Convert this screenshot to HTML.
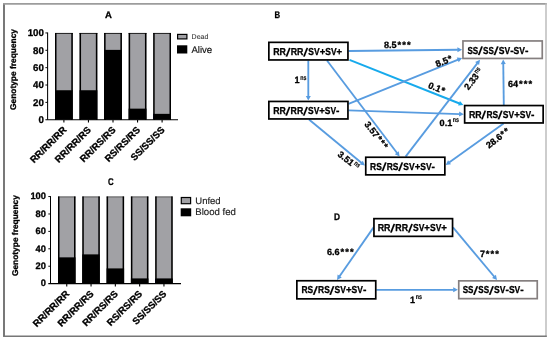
<!DOCTYPE html>
<html lang="en"><head><meta charset="utf-8"><title>Figure</title>
<style>html,body{margin:0;padding:0;background:#fff;}body{width:550px;height:340px;overflow:hidden;}svg{display:block;text-rendering:geometricPrecision;font-family:"Liberation Sans",sans-serif;}text[font-weight="700"]{stroke:#000;stroke-width:.3px;stroke-linejoin:round;}</style>
</head><body>
<svg width="550" height="340" viewBox="0 0 550 340">
<rect width="550" height="340" fill="#fff"/>
<defs><filter id="soft" x="0" y="0" width="100%" height="100%" filterUnits="userSpaceOnUse" primitiveUnits="userSpaceOnUse"><feGaussianBlur stdDeviation="0.35"/></filter></defs>
<g filter="url(#soft)">
<rect width="550" height="340" fill="#fff"/>
<path d="M4 3.2V336.8" stroke="#6a6a6a" stroke-width="1.8"/>
<path d="M3.2 3.9H546.8" stroke="#9c9c9c" stroke-width="1.8"/>
<path d="M546 3.2V336.8" stroke="#bcbcbc" stroke-width="1.5"/>
<path d="M3.2 336.2H546.8" stroke="#777" stroke-width="1.6"/>
<g>
<text x="108.5" y="18" font-size="9.5" font-weight="700" text-anchor="middle">A</text>
<rect x="55.00" y="32.95" width="17.80" height="86.80" fill="#a1a1a5"/>
<path d="M55.00 33.45H72.80" stroke="#222" stroke-width="1.0" fill="none"/>
<path d="M55.75 32.95V119.75M72.05 32.95V119.75" stroke="#000" stroke-width="1.5" fill="none"/>
<rect x="55.00" y="90.24" width="17.80" height="29.51" fill="#000"/>
<rect x="79.55" y="32.95" width="17.80" height="86.80" fill="#a1a1a5"/>
<path d="M79.55 33.45H97.35" stroke="#222" stroke-width="1.0" fill="none"/>
<path d="M80.30 32.95V119.75M96.60 32.95V119.75" stroke="#000" stroke-width="1.5" fill="none"/>
<rect x="79.55" y="90.24" width="17.80" height="29.51" fill="#000"/>
<rect x="104.10" y="32.95" width="17.80" height="86.80" fill="#a1a1a5"/>
<path d="M104.10 33.45H121.90" stroke="#222" stroke-width="1.0" fill="none"/>
<path d="M104.85 32.95V119.75M121.15 32.95V119.75" stroke="#000" stroke-width="1.5" fill="none"/>
<rect x="104.10" y="49.88" width="17.80" height="69.87" fill="#000"/>
<rect x="128.65" y="32.95" width="17.80" height="86.80" fill="#a1a1a5"/>
<path d="M128.65 33.45H146.45" stroke="#222" stroke-width="1.0" fill="none"/>
<path d="M129.40 32.95V119.75M145.70 32.95V119.75" stroke="#000" stroke-width="1.5" fill="none"/>
<rect x="128.65" y="108.64" width="17.80" height="11.11" fill="#000"/>
<rect x="153.20" y="32.95" width="17.80" height="86.80" fill="#a1a1a5"/>
<path d="M153.20 33.45H171.00" stroke="#222" stroke-width="1.0" fill="none"/>
<path d="M153.95 32.95V119.75M170.25 32.95V119.75" stroke="#000" stroke-width="1.5" fill="none"/>
<rect x="153.20" y="113.85" width="17.80" height="5.90" fill="#000"/>
<path d="M47.6 32.45V119.75" stroke="#000" stroke-width="1.05" fill="none"/>
<path d="M45.4 119.75H178" stroke="#000" stroke-width="1.15" fill="none"/>
<text x="43.9" y="122.97" font-size="9.7" font-weight="700" text-anchor="end">0</text>
<path d="M45.4 102.39H47.6" stroke="#000" stroke-width="0.95"/>
<text x="43.9" y="105.61" font-size="9.7" font-weight="700" text-anchor="end">20</text>
<path d="M45.4 85.03H47.6" stroke="#000" stroke-width="0.95"/>
<text x="43.9" y="88.25" font-size="9.7" font-weight="700" text-anchor="end">40</text>
<path d="M45.4 67.67H47.6" stroke="#000" stroke-width="0.95"/>
<text x="43.9" y="70.89" font-size="9.7" font-weight="700" text-anchor="end">60</text>
<path d="M45.4 50.31H47.6" stroke="#000" stroke-width="0.95"/>
<text x="43.9" y="53.53" font-size="9.7" font-weight="700" text-anchor="end">80</text>
<path d="M45.4 32.95H47.6" stroke="#000" stroke-width="0.95"/>
<text x="43.9" y="36.17" font-size="9.7" font-weight="700" text-anchor="end">100</text>
<path d="M63.90 119.75V122.55" stroke="#000" stroke-width="1.1"/>
<text transform="translate(67.10 130.45) rotate(-45)" font-size="9.6" font-weight="700" text-anchor="end">RR/RR/RR</text>
<path d="M88.45 119.75V122.55" stroke="#000" stroke-width="1.1"/>
<text transform="translate(91.65 130.45) rotate(-45)" font-size="9.6" font-weight="700" text-anchor="end">RR/RR/RS</text>
<path d="M113.00 119.75V122.55" stroke="#000" stroke-width="1.1"/>
<text transform="translate(116.20 130.45) rotate(-45)" font-size="9.6" font-weight="700" text-anchor="end">RR/RS/RS</text>
<path d="M137.55 119.75V122.55" stroke="#000" stroke-width="1.1"/>
<text transform="translate(140.75 130.45) rotate(-45)" font-size="9.6" font-weight="700" text-anchor="end">RS/RS/RS</text>
<path d="M162.10 119.75V122.55" stroke="#000" stroke-width="1.1"/>
<text transform="translate(165.30 130.45) rotate(-45)" font-size="9.6" font-weight="700" text-anchor="end">SS/SS/SS</text>
<text transform="translate(16.4 69.5) rotate(-90)" font-size="8.4" font-weight="700" text-anchor="middle">Genotype frequency</text>
<rect x="177.6" y="34.4" width="9.3" height="4.5" fill="#a1a1a5" stroke="#000" stroke-width="1.2"/>
<text x="191.6" y="38.6" font-size="7" fill="#3a3a3a" stroke="#3a3a3a" stroke-width=".12">Dead</text>
<rect x="177" y="45.3" width="10.3" height="8.2" fill="#000"/>
<text x="191.4" y="52.7" font-size="9.6" fill="#111" stroke="#111" stroke-width=".15">Alive</text>
</g>
<g>
<text x="110.7" y="185.3" font-size="9.8" font-weight="700" text-anchor="middle" textLength="5.6" lengthAdjust="spacingAndGlyphs">C</text>
<rect x="58.00" y="196.55" width="17.50" height="87.10" fill="#a1a1a5"/>
<path d="M58.00 196.95H75.50" stroke="#4a4a4a" stroke-width="0.8" fill="none"/>
<path d="M58.75 196.55V283.65M74.75 196.55V283.65" stroke="#000" stroke-width="1.5" fill="none"/>
<rect x="58.00" y="257.35" width="17.50" height="26.30" fill="#000"/>
<rect x="82.30" y="196.55" width="17.50" height="87.10" fill="#a1a1a5"/>
<path d="M82.30 196.95H99.80" stroke="#4a4a4a" stroke-width="0.8" fill="none"/>
<path d="M83.05 196.55V283.65M99.05 196.55V283.65" stroke="#000" stroke-width="1.5" fill="none"/>
<rect x="82.30" y="254.38" width="17.50" height="29.27" fill="#000"/>
<rect x="106.60" y="196.55" width="17.50" height="87.10" fill="#a1a1a5"/>
<path d="M106.60 196.95H124.10" stroke="#4a4a4a" stroke-width="0.8" fill="none"/>
<path d="M107.35 196.55V283.65M123.35 196.55V283.65" stroke="#000" stroke-width="1.5" fill="none"/>
<rect x="106.60" y="268.41" width="17.50" height="15.24" fill="#000"/>
<rect x="130.90" y="196.55" width="17.50" height="87.10" fill="#a1a1a5"/>
<path d="M130.90 196.95H148.40" stroke="#4a4a4a" stroke-width="0.8" fill="none"/>
<path d="M131.65 196.55V283.65M147.65 196.55V283.65" stroke="#000" stroke-width="1.5" fill="none"/>
<rect x="130.90" y="278.42" width="17.50" height="5.23" fill="#000"/>
<rect x="155.20" y="196.55" width="17.50" height="87.10" fill="#a1a1a5"/>
<path d="M155.20 196.95H172.70" stroke="#4a4a4a" stroke-width="0.8" fill="none"/>
<path d="M155.95 196.55V283.65M171.95 196.55V283.65" stroke="#000" stroke-width="1.5" fill="none"/>
<rect x="155.20" y="278.42" width="17.50" height="5.23" fill="#000"/>
<path d="M50.5 196.05V283.65" stroke="#000" stroke-width="1.05" fill="none"/>
<path d="M48.3 283.65H181" stroke="#000" stroke-width="1.15" fill="none"/>
<text x="45.9" y="286.38" font-size="9.3" font-weight="700" text-anchor="end">0</text>
<path d="M48.3 266.23H50.5" stroke="#000" stroke-width="0.95"/>
<text x="45.9" y="268.96" font-size="9.3" font-weight="700" text-anchor="end">20</text>
<path d="M48.3 248.81H50.5" stroke="#000" stroke-width="0.95"/>
<text x="45.9" y="251.54" font-size="9.3" font-weight="700" text-anchor="end">40</text>
<path d="M48.3 231.39H50.5" stroke="#000" stroke-width="0.95"/>
<text x="45.9" y="234.12" font-size="9.3" font-weight="700" text-anchor="end">60</text>
<path d="M48.3 213.97H50.5" stroke="#000" stroke-width="0.95"/>
<text x="45.9" y="216.70" font-size="9.3" font-weight="700" text-anchor="end">80</text>
<path d="M48.3 196.55H50.5" stroke="#000" stroke-width="0.95"/>
<text x="45.9" y="199.28" font-size="9.3" font-weight="700" text-anchor="end">100</text>
<path d="M66.75 283.65V286.45" stroke="#000" stroke-width="1.1"/>
<text transform="translate(69.95 294.35) rotate(-45)" font-size="9.6" font-weight="700" text-anchor="end">RR/RR/RR</text>
<path d="M91.05 283.65V286.45" stroke="#000" stroke-width="1.1"/>
<text transform="translate(94.25 294.35) rotate(-45)" font-size="9.6" font-weight="700" text-anchor="end">RR/RR/RS</text>
<path d="M115.35 283.65V286.45" stroke="#000" stroke-width="1.1"/>
<text transform="translate(118.55 294.35) rotate(-45)" font-size="9.6" font-weight="700" text-anchor="end">RR/RS/RS</text>
<path d="M139.65 283.65V286.45" stroke="#000" stroke-width="1.1"/>
<text transform="translate(142.85 294.35) rotate(-45)" font-size="9.6" font-weight="700" text-anchor="end">RS/RS/RS</text>
<path d="M163.95 283.65V286.45" stroke="#000" stroke-width="1.1"/>
<text transform="translate(167.15 294.35) rotate(-45)" font-size="9.6" font-weight="700" text-anchor="end">SS/SS/SS</text>
<text transform="translate(18.2 235.6) rotate(-90)" font-size="8.4" font-weight="700" text-anchor="middle">Genotype frequency</text>
<rect x="181.3" y="197.5" width="9.3" height="6.2" fill="#a1a1a5" stroke="#000" stroke-width="1.2"/>
<text x="195.3" y="203.5" font-size="9.5" fill="#222" stroke="#222" stroke-width=".15">Unfed</text>
<rect x="180.7" y="208.3" width="10.5" height="8" fill="#000"/>
<text x="195.3" y="215.4" font-size="9.65" fill="#222" stroke="#222" stroke-width=".15">Blood fed</text>
</g>
<g>
<text x="277.2" y="18.3" font-size="9.6" font-weight="700" text-anchor="middle" textLength="5.6" lengthAdjust="spacingAndGlyphs">B</text>
<path d="M308.30 60.50L308.30 96.40" stroke="#589ce0" stroke-width="1.85" fill="none"/>
<path d="M308.30 100.60L305.80 95.90L310.80 95.90Z" fill="#589ce0"/>
<path d="M327.00 60.50L397.06 153.05" stroke="#589ce0" stroke-width="1.85" fill="none"/>
<path d="M399.60 156.40L394.77 154.16L398.76 151.14Z" fill="#589ce0"/>
<path d="M348.50 51.00L457.90 49.75" stroke="#589ce0" stroke-width="1.85" fill="none"/>
<path d="M462.10 49.70L457.43 52.25L457.37 47.25Z" fill="#589ce0"/>
<path d="M349.50 59.90L459.49 103.45" stroke="#18aaec" stroke-width="2.0" fill="none"/>
<path d="M463.40 105.00L458.11 105.59L459.95 100.95Z" fill="#18aaec"/>
<path d="M348.50 103.90L458.20 59.67" stroke="#589ce0" stroke-width="1.85" fill="none"/>
<path d="M462.10 58.10L458.68 62.18L456.81 57.54Z" fill="#589ce0"/>
<path d="M348.50 110.40L459.60 114.06" stroke="#589ce0" stroke-width="1.85" fill="none"/>
<path d="M463.80 114.20L459.02 116.54L459.18 111.55Z" fill="#589ce0"/>
<path d="M309.00 119.50L361.66 162.93" stroke="#589ce0" stroke-width="1.85" fill="none"/>
<path d="M364.90 165.60L359.68 164.54L362.86 160.68Z" fill="#589ce0"/>
<path d="M405.60 156.60L477.44 63.13" stroke="#589ce0" stroke-width="1.85" fill="none"/>
<path d="M480.00 59.80L479.12 65.05L475.15 62.00Z" fill="#589ce0"/>
<path d="M503.80 105.00L503.26 63.60" stroke="#589ce0" stroke-width="1.85" fill="none"/>
<path d="M503.20 59.40L505.76 64.07L500.76 64.13Z" fill="#589ce0"/>
<path d="M503.60 123.40L449.11 162.55" stroke="#589ce0" stroke-width="1.85" fill="none"/>
<path d="M445.70 165.00L448.06 160.23L450.98 164.29Z" fill="#589ce0"/>
<rect x="268.85" y="42.35" width="79.10" height="17.60" fill="#fff" stroke="#000" stroke-width="1.7"/>
<text font-size="10.1" font-weight="700" aria-label="RR/RR/SV+SV+"><tspan x="273.20" y="55.00" textLength="12.70" lengthAdjust="spacingAndGlyphs">RR</tspan><tspan x="285.47" y="56.20" rotate="8" font-size="12.2" textLength="3.9" lengthAdjust="spacingAndGlyphs" style="stroke-width:.1px">/</tspan><tspan x="290.75" y="55.00" textLength="12.70" lengthAdjust="spacingAndGlyphs">RR</tspan><tspan x="303.02" y="56.20" rotate="8" font-size="12.2" textLength="3.9" lengthAdjust="spacingAndGlyphs" style="stroke-width:.1px">/</tspan><tspan x="308.30" y="55.00" textLength="11.33" lengthAdjust="spacingAndGlyphs">SV</tspan><tspan x="319.63" y="55.00" textLength="5.62" lengthAdjust="spacingAndGlyphs">+</tspan><tspan x="325.25" y="55.00" textLength="11.33" lengthAdjust="spacingAndGlyphs">SV</tspan><tspan x="336.58" y="55.00" textLength="5.62" lengthAdjust="spacingAndGlyphs">+</tspan></text>
<rect x="268.85" y="101.45" width="79.10" height="17.50" fill="#fff" stroke="#000" stroke-width="1.7"/>
<text font-size="10.1" font-weight="700" aria-label="RR/RR/SV+SV-"><tspan x="273.20" y="114.00" textLength="12.60" lengthAdjust="spacingAndGlyphs">RR</tspan><tspan x="285.35" y="115.20" rotate="8" font-size="12.2" textLength="3.9" lengthAdjust="spacingAndGlyphs" style="stroke-width:.1px">/</tspan><tspan x="290.61" y="114.00" textLength="12.60" lengthAdjust="spacingAndGlyphs">RR</tspan><tspan x="302.76" y="115.20" rotate="8" font-size="12.2" textLength="3.9" lengthAdjust="spacingAndGlyphs" style="stroke-width:.1px">/</tspan><tspan x="308.02" y="114.00" textLength="11.24" lengthAdjust="spacingAndGlyphs">SV</tspan><tspan x="319.26" y="114.00" textLength="5.57" lengthAdjust="spacingAndGlyphs">+</tspan><tspan x="324.83" y="114.00" textLength="11.24" lengthAdjust="spacingAndGlyphs">SV</tspan><tspan x="336.08" y="114.00" textLength="3.42" lengthAdjust="spacingAndGlyphs">-</tspan></text>
<rect x="365.75" y="157.25" width="79.10" height="17.60" fill="#fff" stroke="#000" stroke-width="1.7"/>
<text font-size="10.1" font-weight="700" aria-label="RS/RS/SV+SV-"><tspan x="370.10" y="169.60" textLength="11.72" lengthAdjust="spacingAndGlyphs">RS</tspan><tspan x="381.40" y="170.80" rotate="8" font-size="12.2" textLength="3.9" lengthAdjust="spacingAndGlyphs" style="stroke-width:.1px">/</tspan><tspan x="386.68" y="169.60" textLength="11.72" lengthAdjust="spacingAndGlyphs">RS</tspan><tspan x="397.99" y="170.80" rotate="8" font-size="12.2" textLength="3.9" lengthAdjust="spacingAndGlyphs" style="stroke-width:.1px">/</tspan><tspan x="403.27" y="169.60" textLength="11.37" lengthAdjust="spacingAndGlyphs">SV</tspan><tspan x="414.64" y="169.60" textLength="5.63" lengthAdjust="spacingAndGlyphs">+</tspan><tspan x="420.27" y="169.60" textLength="11.37" lengthAdjust="spacingAndGlyphs">SV</tspan><tspan x="431.64" y="169.60" textLength="3.46" lengthAdjust="spacingAndGlyphs">-</tspan></text>
<rect x="464.65" y="105.55" width="78.50" height="17.40" fill="#fff" stroke="#000" stroke-width="1.7"/>
<text font-size="10.1" font-weight="700" aria-label="RR/RS/SV+SV-"><tspan x="468.90" y="117.90" textLength="12.66" lengthAdjust="spacingAndGlyphs">RR</tspan><tspan x="481.12" y="119.10" rotate="8" font-size="12.2" textLength="3.9" lengthAdjust="spacingAndGlyphs" style="stroke-width:.1px">/</tspan><tspan x="486.39" y="117.90" textLength="11.65" lengthAdjust="spacingAndGlyphs">RS</tspan><tspan x="497.60" y="119.10" rotate="8" font-size="12.2" textLength="3.9" lengthAdjust="spacingAndGlyphs" style="stroke-width:.1px">/</tspan><tspan x="502.87" y="117.90" textLength="11.30" lengthAdjust="spacingAndGlyphs">SV</tspan><tspan x="514.17" y="117.90" textLength="5.60" lengthAdjust="spacingAndGlyphs">+</tspan><tspan x="519.76" y="117.90" textLength="11.30" lengthAdjust="spacingAndGlyphs">SV</tspan><tspan x="531.06" y="117.90" textLength="3.44" lengthAdjust="spacingAndGlyphs">-</tspan></text>
<rect x="462.95" y="40.95" width="79.30" height="17.50" fill="#fff" stroke="#857f7f" stroke-width="1.7"/>
<text font-size="10.1" font-weight="700" aria-label="SS/SS/SV-SV-"><tspan x="467.50" y="53.50" textLength="10.74" lengthAdjust="spacingAndGlyphs">SS</tspan><tspan x="477.83" y="54.70" rotate="8" font-size="12.2" textLength="3.9" lengthAdjust="spacingAndGlyphs" style="stroke-width:.1px">/</tspan><tspan x="483.12" y="53.50" textLength="10.74" lengthAdjust="spacingAndGlyphs">SS</tspan><tspan x="493.45" y="54.70" rotate="8" font-size="12.2" textLength="3.9" lengthAdjust="spacingAndGlyphs" style="stroke-width:.1px">/</tspan><tspan x="498.74" y="53.50" textLength="11.41" lengthAdjust="spacingAndGlyphs">SV</tspan><tspan x="510.15" y="53.50" textLength="3.47" lengthAdjust="spacingAndGlyphs">-</tspan><tspan x="513.62" y="53.50" textLength="11.41" lengthAdjust="spacingAndGlyphs">SV</tspan><tspan x="525.03" y="53.50" textLength="3.47" lengthAdjust="spacingAndGlyphs">-</tspan></text>
<g transform="translate(294.60 83.10) rotate(0)" role="img" aria-label="1ns"><text font-size="9.1" font-weight="700">1</text><text x="5.66" y="-3.3" font-size="7.0" font-weight="700" style="stroke-width:.14px" textLength="6.2" lengthAdjust="spacingAndGlyphs">ns</text></g>
<g transform="translate(384.00 48.20) rotate(0)" role="img" aria-label="8.5***"><text font-size="9.1" font-weight="700">8.5<tspan font-size="9.4" dy="0.0" dx="0.8" letter-spacing="1.1">***</tspan></text></g>
<g transform="translate(437.10 67.30) rotate(-22)" role="img" aria-label="8.5*"><text font-size="9.1" font-weight="700">8.5<tspan font-size="9.4" dy="0.0" dx="0.8" letter-spacing="1.1">*</tspan></text></g>
<g transform="translate(427.60 87.70) rotate(22)" role="img" aria-label="0.1*"><text font-size="9.1" font-weight="700">0.1<tspan font-size="9.4" dy="0.0" dx="0.8" letter-spacing="1.1">*</tspan></text></g>
<g transform="translate(439.60 125.60) rotate(0)" role="img" aria-label="0.1ns"><text font-size="9.1" font-weight="700">0.1</text><text x="13.25" y="-3.3" font-size="7.0" font-weight="700" style="stroke-width:.14px" textLength="6.2" lengthAdjust="spacingAndGlyphs">ns</text></g>
<g transform="translate(468.60 90.60) rotate(-53)" role="img" aria-label="2.33ns"><text font-size="9.1" font-weight="700">2.33</text><text x="18.31" y="-3.3" font-size="7.0" font-weight="700" style="stroke-width:.14px" textLength="6.2" lengthAdjust="spacingAndGlyphs">ns</text></g>
<g transform="translate(508.00 86.80) rotate(0)" role="img" aria-label="64***"><text font-size="9.1" font-weight="700">64<tspan font-size="9.4" dy="0.0" dx="0.8" letter-spacing="1.1">***</tspan></text></g>
<g transform="translate(364.00 124.60) rotate(52)" role="img" aria-label="3.57***"><text font-size="9.1" font-weight="700">3.57<tspan font-size="9.4" dy="0.0" dx="0.8" letter-spacing="1.1">***</tspan></text></g>
<g transform="translate(337.00 155.50) rotate(38)" role="img" aria-label="3.51ns"><text font-size="9.1" font-weight="700">3.51</text><text x="18.31" y="-3.3" font-size="7.0" font-weight="700" style="stroke-width:.14px" textLength="6.2" lengthAdjust="spacingAndGlyphs">ns</text></g>
<g transform="translate(489.00 148.80) rotate(-38)" role="img" aria-label="28.6**"><text font-size="9.1" font-weight="700">28.6<tspan font-size="9.4" dy="0.0" dx="0.8" letter-spacing="1.1">**</tspan></text></g>
</g>
<g>
<text x="337" y="219.5" font-size="9.6" font-weight="700" text-anchor="middle" textLength="6" lengthAdjust="spacingAndGlyphs">D</text>
<path d="M373.60 227.40L339.40 276.45" stroke="#589ce0" stroke-width="1.85" fill="none"/>
<path d="M337.00 279.90L337.64 274.61L341.74 277.47Z" fill="#589ce0"/>
<path d="M453.00 227.40L494.31 276.78" stroke="#589ce0" stroke-width="1.85" fill="none"/>
<path d="M497.00 280.00L492.07 278.00L495.90 274.79Z" fill="#589ce0"/>
<path d="M376.30 289.80L453.70 289.80" stroke="#589ce0" stroke-width="1.85" fill="none"/>
<path d="M457.90 289.80L453.20 292.30L453.20 287.30Z" fill="#589ce0"/>
<rect x="373.95" y="218.65" width="78.60" height="17.70" fill="#fff" stroke="#000" stroke-width="1.7"/>
<text font-size="10.1" font-weight="700" aria-label="RR/RR/SV+SV+"><tspan x="377.70" y="231.00" textLength="12.75" lengthAdjust="spacingAndGlyphs">RR</tspan><tspan x="390.04" y="232.20" rotate="8" font-size="12.2" textLength="3.9" lengthAdjust="spacingAndGlyphs" style="stroke-width:.1px">/</tspan><tspan x="395.33" y="231.00" textLength="12.75" lengthAdjust="spacingAndGlyphs">RR</tspan><tspan x="407.66" y="232.20" rotate="8" font-size="12.2" textLength="3.9" lengthAdjust="spacingAndGlyphs" style="stroke-width:.1px">/</tspan><tspan x="412.95" y="231.00" textLength="11.38" lengthAdjust="spacingAndGlyphs">SV</tspan><tspan x="424.33" y="231.00" textLength="5.64" lengthAdjust="spacingAndGlyphs">+</tspan><tspan x="429.98" y="231.00" textLength="11.38" lengthAdjust="spacingAndGlyphs">SV</tspan><tspan x="441.36" y="231.00" textLength="5.64" lengthAdjust="spacingAndGlyphs">+</tspan></text>
<rect x="296.85" y="280.75" width="78.90" height="18.10" fill="#fff" stroke="#000" stroke-width="1.7"/>
<text font-size="10.1" font-weight="700" aria-label="RS/RS/SV+SV-"><tspan x="301.50" y="293.20" textLength="11.70" lengthAdjust="spacingAndGlyphs">RS</tspan><tspan x="312.78" y="294.40" rotate="8" font-size="12.2" textLength="3.9" lengthAdjust="spacingAndGlyphs" style="stroke-width:.1px">/</tspan><tspan x="318.06" y="293.20" textLength="11.70" lengthAdjust="spacingAndGlyphs">RS</tspan><tspan x="329.34" y="294.40" rotate="8" font-size="12.2" textLength="3.9" lengthAdjust="spacingAndGlyphs" style="stroke-width:.1px">/</tspan><tspan x="334.62" y="293.20" textLength="11.35" lengthAdjust="spacingAndGlyphs">SV</tspan><tspan x="345.97" y="293.20" textLength="5.62" lengthAdjust="spacingAndGlyphs">+</tspan><tspan x="351.59" y="293.20" textLength="11.35" lengthAdjust="spacingAndGlyphs">SV</tspan><tspan x="362.94" y="293.20" textLength="3.46" lengthAdjust="spacingAndGlyphs">-</tspan></text>
<rect x="458.75" y="280.85" width="78.50" height="17.80" fill="#fff" stroke="#857f7f" stroke-width="1.7"/>
<text font-size="10.1" font-weight="700" aria-label="SS/SS/SV-SV-"><tspan x="462.70" y="293.20" textLength="10.76" lengthAdjust="spacingAndGlyphs">SS</tspan><tspan x="473.05" y="294.40" rotate="8" font-size="12.2" textLength="3.9" lengthAdjust="spacingAndGlyphs" style="stroke-width:.1px">/</tspan><tspan x="478.34" y="293.20" textLength="10.76" lengthAdjust="spacingAndGlyphs">SS</tspan><tspan x="488.69" y="294.40" rotate="8" font-size="12.2" textLength="3.9" lengthAdjust="spacingAndGlyphs" style="stroke-width:.1px">/</tspan><tspan x="493.99" y="293.20" textLength="11.43" lengthAdjust="spacingAndGlyphs">SV</tspan><tspan x="505.42" y="293.20" textLength="3.48" lengthAdjust="spacingAndGlyphs">-</tspan><tspan x="508.89" y="293.20" textLength="11.43" lengthAdjust="spacingAndGlyphs">SV</tspan><tspan x="520.32" y="293.20" textLength="3.48" lengthAdjust="spacingAndGlyphs">-</tspan></text>
<g transform="translate(327.00 255.00) rotate(0)" role="img" aria-label="6.6***"><text font-size="9.1" font-weight="700">6.6<tspan font-size="9.4" dy="0.0" dx="0.8" letter-spacing="1.1">***</tspan></text></g>
<g transform="translate(480.00 256.60) rotate(0)" role="img" aria-label="7***"><text font-size="9.1" font-weight="700">7<tspan font-size="9.4" dy="0.0" dx="0.8" letter-spacing="1.1">***</tspan></text></g>
<g transform="translate(410.00 302.60) rotate(0)" role="img" aria-label="1ns"><text font-size="9.1" font-weight="700">1</text><text x="5.66" y="-3.3" font-size="7.0" font-weight="700" style="stroke-width:.14px" textLength="6.2" lengthAdjust="spacingAndGlyphs">ns</text></g>
</g>
</g>
</svg></body></html>
